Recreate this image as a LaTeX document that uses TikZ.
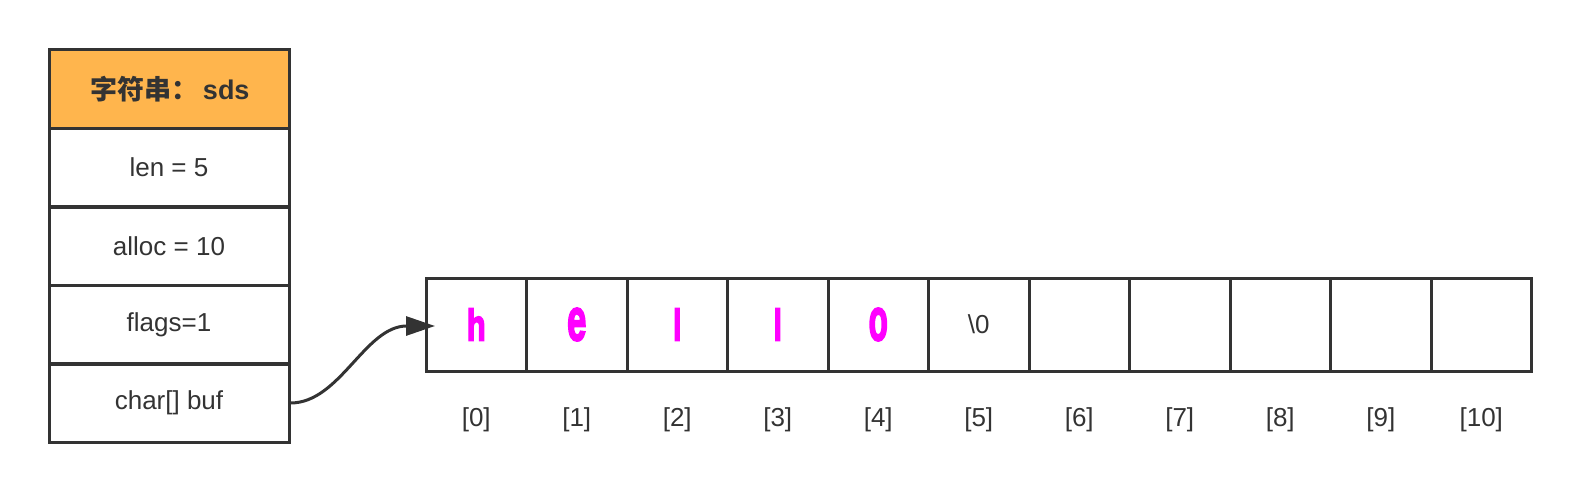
\documentclass[tikz,border=0pt]{standalone}
\usepackage{fontspec}
\usepackage{graphicx}
\setmainfont{Liberation Sans}
\newfontfamily\cjk{Noto Sans CJK SC}
\newfontfamily\heavy{Liberation Sans Bold}[FakeBold=4]
\usetikzlibrary{arrows.meta,calc}
\definecolor{ink}{HTML}{333333}
\definecolor{hdrfill}{HTML}{FFB54D}
\definecolor{mag}{HTML}{FF00FF}
\newcommand\hvy[2]{\textcolor{mag}{\resizebox{#1}{32pt}{\heavy #2}}}
\tikzset{
  fieldbox/.style={draw=ink, line width=3pt, minimum width=240pt, minimum height=78.5pt, inner sep=0pt, text=ink, font=\fontsize{26}{30}\selectfont},
  hdrbox/.style={fieldbox, fill=hdrfill, font=\bfseries\fontsize{27}{30}\selectfont},
  arrcell/.style={draw=ink, line width=3pt, minimum width=100.5pt, minimum height=93pt, inner sep=0pt, text=ink, font=\fontsize{26}{30}\selectfont},
  idx/.style={text=ink, inner sep=0pt, font=\fontsize{26}{30}\selectfont},
  conn/.style={draw=ink, line width=3pt, -{Triangle[length=29pt,width=19pt]}}
}
\begin{document}
\begin{tikzpicture}[x=1pt,y=-1pt]
\useasboundingbox (0,0) rectangle (1581,492);
% left struct
\node[hdrbox] (hdr) at (169,89) {\hspace{2pt}{\cjk 字符串：}\,sds};
\node[fieldbox] (len) at (169,167.5) {len = 5};
\node[fieldbox] (alloc) at (169,246.5) {alloc = 10};
\node[fieldbox] (flags) at (169,325) {flags=1};
\node[fieldbox] (buf) at (169,403) {char[] buf};
% array
\node[arrcell] (c0) at (476.25,324.5) {\hvy{19pt}{h}};
\node[arrcell] (c1) at (576.75,324.5) {\hvy{19pt}{e}};
\node[arrcell] (c2) at (677.25,324.5) {\hvy{8.5pt}{l}};
\node[arrcell] (c3) at (777.75,324.5) {\hvy{8.5pt}{l}};
\node[arrcell] (c4) at (878.25,324.5) {\hvy{19pt}{o}};
\node[arrcell] (c5) at (978.75,324.5) {\textbackslash 0};
\node[arrcell] (c6) at (1079.25,324.5) {};
\node[arrcell] (c7) at (1179.75,324.5) {};
\node[arrcell] (c8) at (1280.25,324.5) {};
\node[arrcell] (c9) at (1380.75,324.5) {};
\node[arrcell] (c10) at (1481.25,324.5) {};
% indices
\foreach \i in {0,...,10} {
  \node[idx] (i\i) at ($(c\i.center)+(0,95)$) {[\i]};
}
% connector
\coordinate (tip) at (435,326);
\draw[conn] (buf.east) .. controls (340,403) and (365,326) .. (tip);
\end{tikzpicture}
\end{document}
